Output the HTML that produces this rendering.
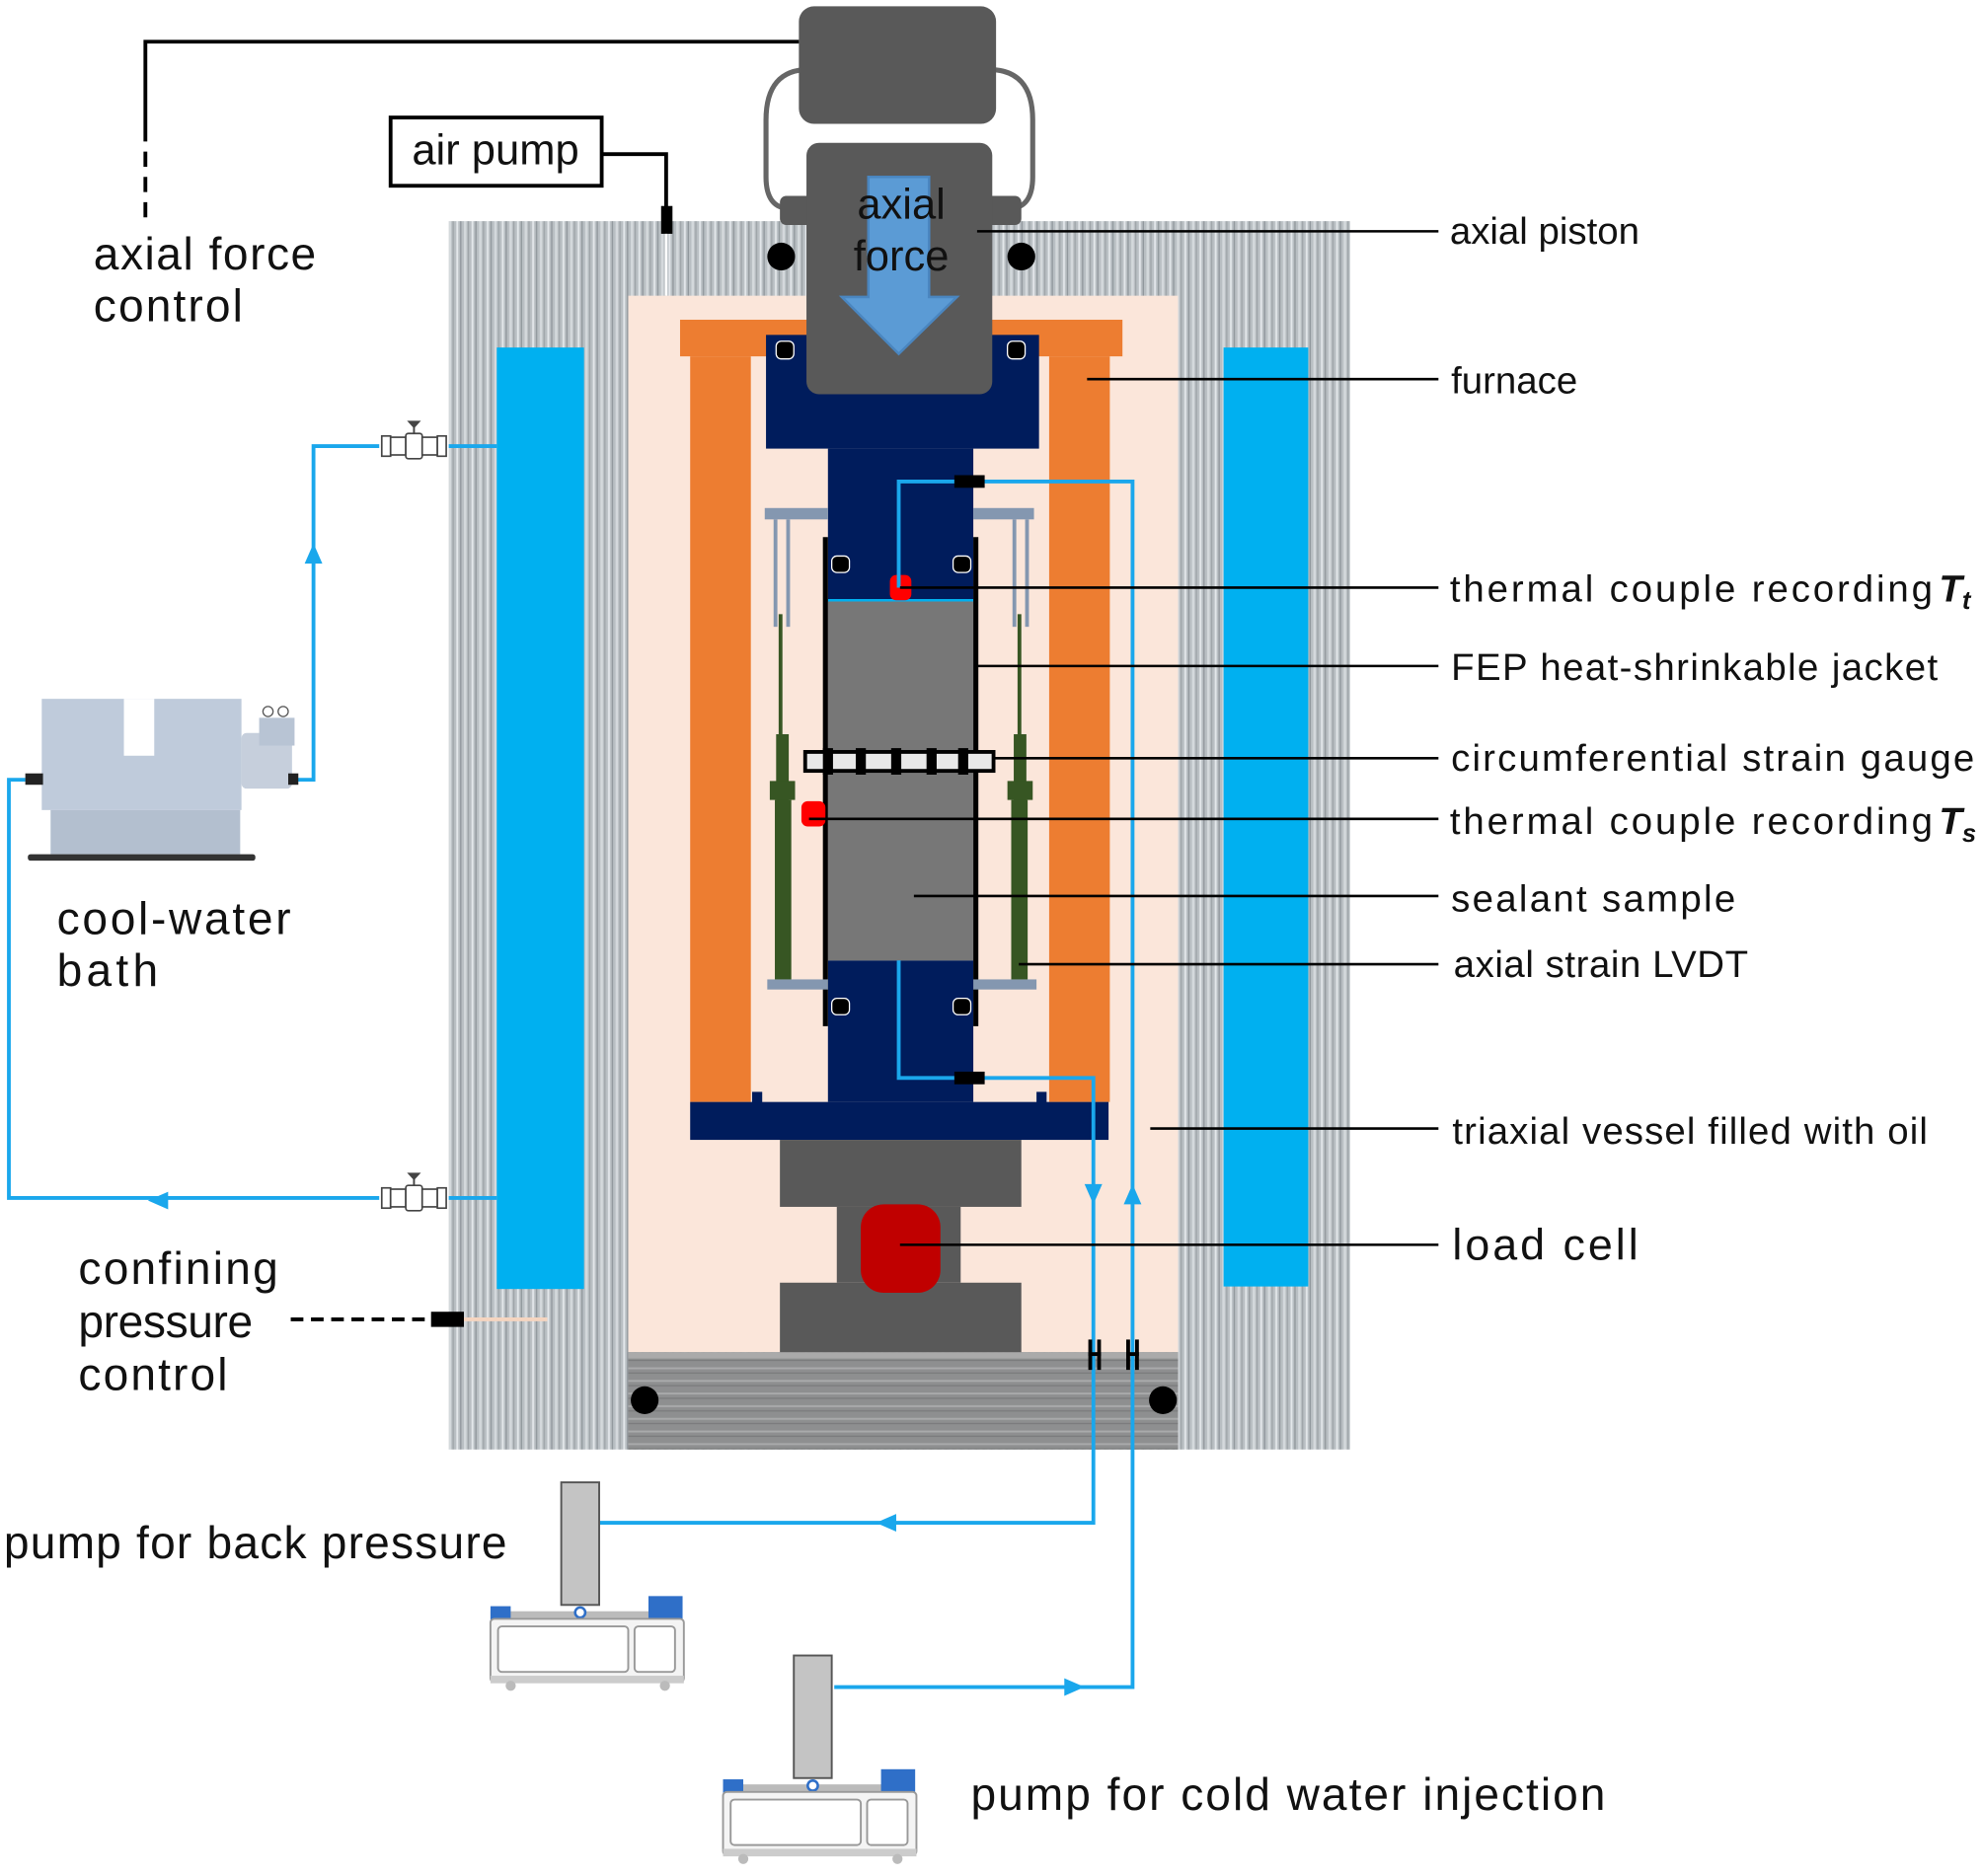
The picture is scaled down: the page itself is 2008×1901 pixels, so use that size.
<!DOCTYPE html>
<html><head><meta charset="utf-8"><style>
html,body{margin:0;padding:0;background:#fff;}
svg{display:block;}
text{font-family:"Liberation Sans",sans-serif;fill:#111;}
</style></head><body>
<svg width="2008" height="1901" viewBox="0 0 1568 1484.5" xmlns="http://www.w3.org/2000/svg">
<defs>
<pattern id="brush" width="12" height="40" patternUnits="userSpaceOnUse">
<rect width="12" height="40" fill="#b9bfc3"/>
<rect x="1" width="1.5" height="40" fill="#e3e7ea"/>
<rect x="4" width="1" height="40" fill="#8f969b"/>
<rect x="7" width="2" height="40" fill="#d4d9dc"/>
<rect x="10" width="1" height="40" fill="#9ea4a8"/>
</pattern>
<pattern id="brushH" width="40" height="10" patternUnits="userSpaceOnUse">
<rect width="40" height="10" fill="#8e8f90"/>
<rect y="2" width="40" height="1.5" fill="#a9aaab"/>
<rect y="6" width="40" height="1" fill="#7a7b7c"/>
</pattern>
<g id="pump">
<rect x="0" y="0" width="30" height="97" fill="#c4c4c4" stroke="#555" stroke-width="1.5"/>
<rect x="-56" y="102" width="150" height="6" fill="#bbb"/>
<rect x="-56" y="98" width="16" height="12" fill="#2f6fc8"/>
<rect x="69" y="90" width="27" height="18" fill="#2f6fc8"/>
<circle cx="15" cy="103" r="4" fill="#fff" stroke="#2f6fc8" stroke-width="2"/>
<rect x="-56" y="108" width="153" height="50" rx="3" fill="#f4f4f4" stroke="#999" stroke-width="1.5"/>
<rect x="-50" y="114" width="103" height="36" rx="3" fill="#fff" stroke="#999" stroke-width="1.5"/>
<rect x="58" y="114" width="32" height="36" rx="3" fill="#fff" stroke="#999" stroke-width="1.5"/>
<rect x="-56" y="153" width="153" height="6" fill="#ccc"/>
<circle cx="-40" cy="161" r="4" fill="#bbb"/><circle cx="82" cy="161" r="4" fill="#bbb"/>
</g>
<g id="valve">
<rect x="0" y="-8" width="7" height="16" fill="#fff" stroke="#444" stroke-width="1.3"/>
<rect x="7" y="-7" width="12" height="14" fill="#fff" stroke="#444" stroke-width="1.3"/>
<rect x="19" y="-10" width="13" height="20" rx="2" fill="#fff" stroke="#444" stroke-width="1.3"/>
<rect x="32" y="-7" width="12" height="14" fill="#fff" stroke="#444" stroke-width="1.3"/>
<rect x="44" y="-8" width="7" height="16" fill="#fff" stroke="#444" stroke-width="1.3"/>
<line x1="25.5" y1="-10" x2="25.5" y2="-17" stroke="#444" stroke-width="1.5"/>
<path d="M20,-20 L31,-20 L25.5,-14 Z" fill="#444"/>
</g>
</defs>

<!-- vessel -->
<rect x="355" y="175" width="713" height="972" fill="url(#brush)"/>
<rect x="497" y="234" width="435" height="836" fill="#fbe6da"/>
<rect x="497" y="1070" width="435" height="77" fill="url(#brushH)"/>
<rect x="497" y="1070" width="435" height="5" fill="#aaa"/>
<!-- cooling jackets -->
<rect x="393" y="275" width="69" height="745" fill="#00b0f0"/>
<rect x="968" y="275" width="67" height="743" fill="#00b0f0"/>
<!-- furnace -->
<rect x="538" y="253" width="350" height="29" fill="#ed7d31"/>
<rect x="546" y="282" width="48" height="590" fill="#ed7d31"/>
<rect x="830" y="282" width="48" height="590" fill="#ed7d31"/>
<!-- base navy -->
<rect x="546" y="872" width="331" height="30" fill="#001c5c"/>
<rect x="595" y="864" width="8" height="10" fill="#001c5c"/>
<rect x="820" y="864" width="8" height="10" fill="#001c5c"/>
<!-- top platen -->
<rect x="606" y="265" width="216" height="90" fill="#001c5c"/>
<rect x="655" y="355" width="115" height="120" fill="#001c5c"/>
<rect x="655" y="760" width="115" height="112" fill="#001c5c"/>
<!-- sample -->
<rect x="655" y="475" width="115" height="285" fill="#7e7e7e"/>
<rect x="655" y="475" width="115" height="285" fill="#666" opacity="0.3"/>
<line x1="655" y1="475" x2="770" y2="475" stroke="#00b0f0" stroke-width="2"/>
<line x1="653" y1="425" x2="653" y2="812" stroke="#000" stroke-width="4"/>
<line x1="772" y1="425" x2="772" y2="812" stroke="#000" stroke-width="4"/>
<g fill="#000" stroke="#fff" stroke-width="1">
<rect x="658" y="440" width="14" height="13" rx="4"/><rect x="754" y="440" width="14" height="13" rx="4"/>
<rect x="658" y="790" width="14" height="13" rx="4"/><rect x="754" y="790" width="14" height="13" rx="4"/>
<rect x="614" y="270" width="14" height="14" rx="4"/><rect x="797" y="270" width="14" height="14" rx="4"/>
</g>
<!-- LVDT -->
<rect x="605" y="402" width="50" height="9" fill="#8497b0"/>
<rect x="770" y="402" width="48" height="9" fill="#8497b0"/>
<rect x="607" y="775" width="48" height="8" fill="#8497b0"/>
<rect x="770" y="775" width="50" height="8" fill="#8497b0"/>
<g fill="#8497b0"><rect x="612" y="411" width="3" height="85"/><rect x="622" y="411" width="3" height="85"/><rect x="801" y="411" width="3" height="85"/><rect x="811" y="411" width="3" height="85"/></g>
<g fill="#375623">
<rect x="616" y="486" width="3" height="95"/><rect x="614" y="581" width="10" height="55"/><rect x="609" y="618" width="20" height="15"/><rect x="613" y="633" width="13" height="142"/>
<rect x="805" y="486" width="3" height="95"/><rect x="802" y="581" width="10" height="55"/><rect x="797" y="618" width="20" height="15"/><rect x="800" y="633" width="13" height="142"/>
</g>
<!-- strain gauge -->
<rect x="637" y="595" width="149" height="15" fill="#e8e8e8" stroke="#000" stroke-width="3"/>
<g fill="#000"><rect x="651" y="592" width="8" height="21"/><rect x="677" y="592" width="8" height="21"/><rect x="705" y="592" width="8" height="21"/><rect x="733" y="592" width="8" height="21"/><rect x="758" y="592" width="8" height="21"/></g>
<!-- thermocouples -->
<rect x="704" y="455" width="17" height="20" rx="5" fill="#ff0000"/>
<rect x="634" y="634" width="19" height="20" rx="5" fill="#ff0000"/>
<!-- load cell -->
<rect x="617" y="902" width="191" height="53" fill="#595959"/>
<rect x="662" y="955" width="98" height="60" fill="#595959"/>
<rect x="617" y="1015" width="191" height="55" fill="#595959"/>
<rect x="681" y="953" width="63" height="70" rx="18" fill="#c00000"/>
<!-- piston -->
<path d="M640,55 Q606,55 606,95 L606,140 Q606,165 625,165" fill="none" stroke="#666" stroke-width="4"/>
<path d="M782,55 Q817,55 817,95 L817,140 Q817,165 798,165" fill="none" stroke="#666" stroke-width="4"/>
<rect x="632" y="5" width="156" height="93" rx="12" fill="#595959"/>
<rect x="617" y="155" width="191" height="23" rx="5" fill="#595959"/>
<rect x="638" y="113" width="147" height="199" rx="10" fill="#595959"/>
<path d="M687,140 L735,140 L735,235 L757,235 L711,280 L666,235 L687,235 Z" fill="#5b9bd5" stroke="#4a86c0" stroke-width="2"/>
<circle cx="618" cy="203" r="11" fill="#000"/><circle cx="808" cy="203" r="11" fill="#000"/>
<circle cx="510" cy="1108" r="11" fill="#000"/><circle cx="920" cy="1108" r="11" fill="#000"/>
<text x="713" y="173" font-size="34" text-anchor="middle">axial</text>
<text x="713" y="214" font-size="34" text-anchor="middle">force</text>

<!-- blue lines -->
<g fill="none" stroke="#1aa7ec" stroke-width="3">
<polyline points="233,617 248,617 248,353 300,353"/>
<line x1="355" y1="353" x2="393" y2="353"/>
<polyline points="20,617 7,617 7,948 300,948"/>
<line x1="355" y1="948" x2="393" y2="948"/>
<polyline points="711,465 711,381 896,381 896,1335 660,1335"/>
<polyline points="711,760 711,853 865,853 865,1205 474,1205"/>
</g>
<g fill="#1aa7ec">
<path d="M248,430 L241,446 L255,446 Z"/>
<path d="M117,950 L133,943 L133,957 Z"/>
<path d="M896,937 L889,953 L903,953 Z"/>
<path d="M865,953 L858,937 L872,937 Z"/>
<path d="M693,1205 L709,1198 L709,1212 Z"/>
<path d="M858,1335 L842,1328 L842,1342 Z"/>
</g>
<use href="#valve" x="302" y="353"/>
<use href="#valve" x="302" y="948"/>
<!-- connectors -->
<g fill="#000">
<rect x="755" y="376" width="24" height="10"/><rect x="755" y="848" width="24" height="10"/>
<rect x="861" y="1060" width="3" height="24"/><rect x="868" y="1060" width="3" height="24"/><rect x="861" y="1070" width="10" height="3"/>
<rect x="891" y="1060" width="3" height="24"/><rect x="898" y="1060" width="3" height="24"/><rect x="891" y="1070" width="10" height="3"/>
<rect x="523" y="163" width="9" height="22"/>
<rect x="341" y="1038" width="26" height="12"/>
</g>
<line x1="367" y1="1044" x2="433" y2="1044" stroke="#f5d5c0" stroke-width="3"/>
<line x1="527" y1="185" x2="527" y2="234" stroke="#fff" stroke-width="2"/>

<!-- cool-water bath -->
<rect x="33" y="553" width="158" height="88" fill="#bfcbdb"/>
<rect x="98" y="553" width="24" height="45" fill="#fff"/>
<rect x="40" y="641" width="150" height="35" fill="#b3bfcf"/>
<rect x="191" y="580" width="40" height="44" rx="4" fill="#c6cfdc"/>
<rect x="205" y="568" width="28" height="22" fill="#b8c4d4"/>
<circle cx="212" cy="563" r="4" fill="none" stroke="#555"/><circle cx="224" cy="563" r="4" fill="none" stroke="#555"/>
<rect x="22" y="676" width="180" height="5" rx="2" fill="#333"/>
<rect x="20" y="612" width="14" height="9" fill="#222"/>
<rect x="228" y="612" width="8" height="9" fill="#222"/>

<!-- pumps -->
<use href="#pump" x="444" y="1173"/>
<use href="#pump" x="628" y="1310"/>

<!-- black lines -->
<g stroke="#000" fill="none" stroke-width="3">
<polyline points="632,33 115,33 115,100"/>
<line x1="115" y1="100" x2="115" y2="175" stroke-dasharray="12,8"/>
<polyline points="476,122 527,122 527,165"/>
<line x1="230" y1="1044" x2="341" y2="1044" stroke-dasharray="10,6"/>
<rect x="309" y="93" width="167" height="54" fill="#fff"/>
</g>
<text x="392" y="130" font-size="34" text-anchor="middle">air pump</text>
<g stroke="#000" stroke-width="2">
<line x1="773" y1="183" x2="1138" y2="183"/>
<line x1="860" y1="300" x2="1138" y2="300"/>
<line x1="712" y1="465" x2="1138" y2="465"/>
<line x1="773" y1="527" x2="1138" y2="527"/>
<line x1="786" y1="600" x2="1138" y2="600"/>
<line x1="640" y1="648" x2="1138" y2="648"/>
<line x1="723" y1="709" x2="1138" y2="709"/>
<line x1="806" y1="763" x2="1138" y2="763"/>
<line x1="910" y1="893" x2="1138" y2="893"/>
<line x1="712" y1="985" x2="1138" y2="985"/>
</g>
<g font-size="30">
<text x="1147" y="193">axial piston</text>
<text x="1148" y="311">furnace</text>
<text x="1147" y="476" textLength="382">thermal couple recording</text>
<text x="1534" y="476" font-family="Liberation Serif" font-style="italic" font-weight="bold" font-size="30">T<tspan font-size="20" dy="6">t</tspan></text>
<text x="1148" y="538" textLength="385">FEP heat-shrinkable jacket</text>
<text x="1148" y="610" textLength="414">circumferential strain gauge</text>
<text x="1147" y="660" textLength="382">thermal couple recording</text>
<text x="1534" y="660" font-family="Liberation Serif" font-style="italic" font-weight="bold" font-size="30">T<tspan font-size="20" dy="6">s</tspan></text>
<text x="1148" y="721" textLength="225">sealant sample</text>
<text x="1150" y="773" textLength="233">axial strain LVDT</text>
<text x="1149" y="905" textLength="376">triaxial vessel filled with oil</text>
<text x="1149" y="997" font-size="35" textLength="147">load cell</text>
</g>
<g font-size="36">
<text x="74" y="213" textLength="176">axial force</text>
<text x="74" y="254" textLength="118">control</text>
<text x="45" y="739" textLength="185">cool-water</text>
<text x="45" y="780" textLength="80">bath</text>
<text x="62" y="1016" textLength="158">confining</text>
<text x="62" y="1058" textLength="138">pressure</text>
<text x="62" y="1100" textLength="118">control</text>
<text x="3" y="1233" textLength="398">pump for back pressure</text>
<text x="768" y="1432" textLength="502">pump for cold water injection</text>
</g>
</svg>
</body></html>
